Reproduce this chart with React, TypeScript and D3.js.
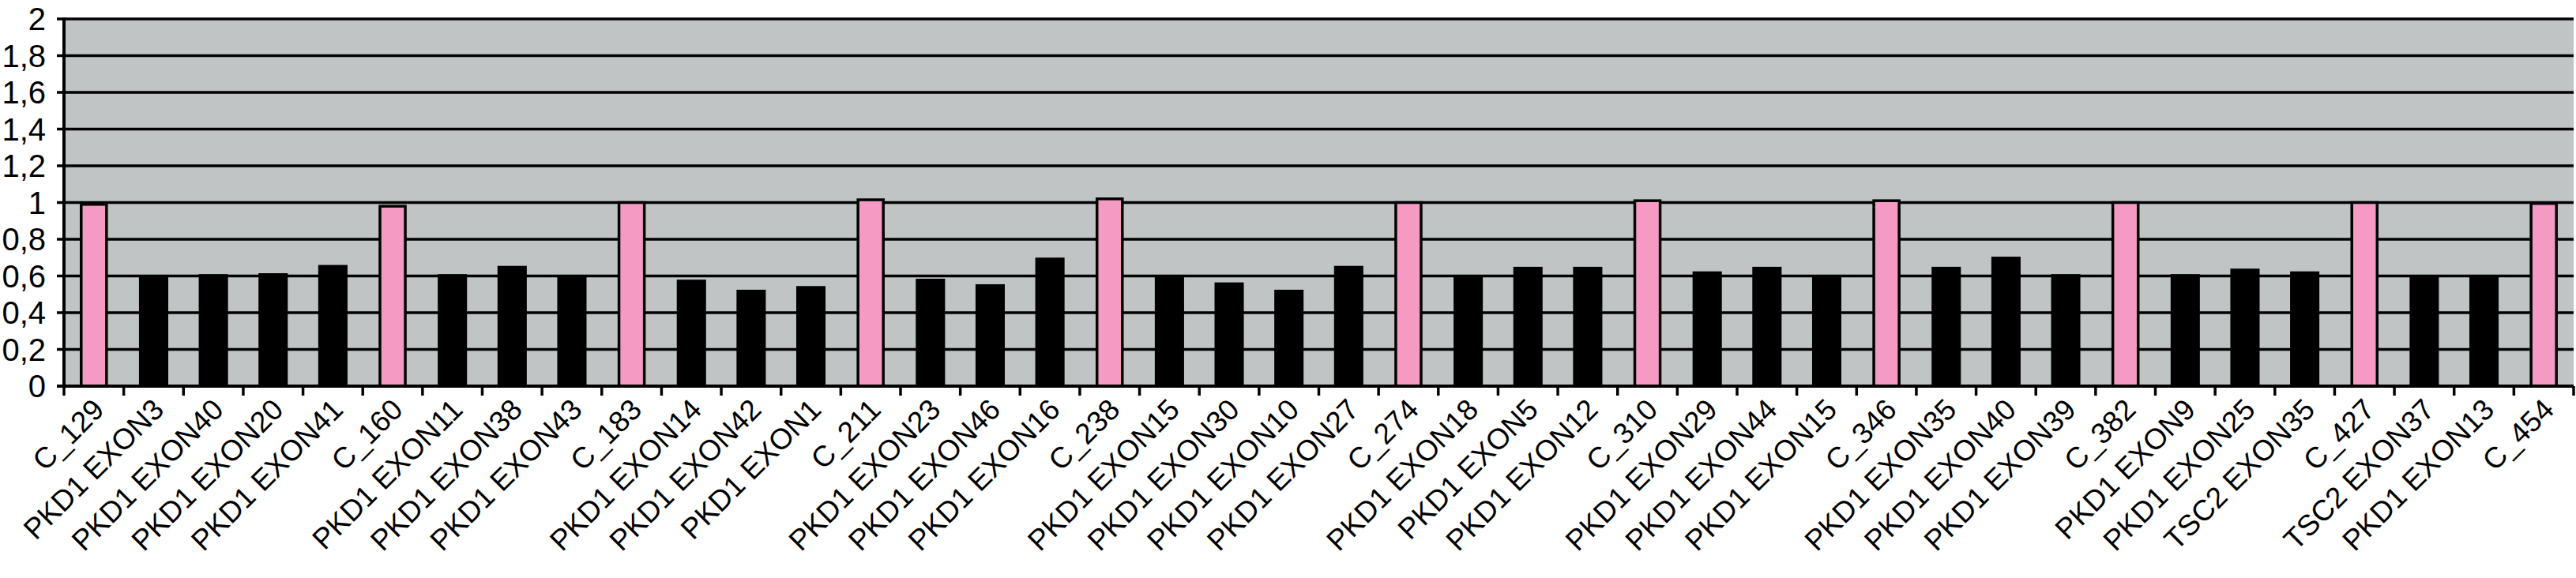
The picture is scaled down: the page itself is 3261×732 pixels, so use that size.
import React, { useRef, useEffect } from "react";
import * as d3 from "d3";

// categories along the x axis (left to right)
const categories = [
  "C_129", "PKD1 EXON3", "PKD1 EXON40", "PKD1 EXON20", "PKD1 EXON41",
  "C_160", "PKD1 EXON11", "PKD1 EXON38", "PKD1 EXON43",
  "C_183", "PKD1 EXON14", "PKD1 EXON42", "PKD1 EXON1",
  "C_211", "PKD1 EXON23", "PKD1 EXON46", "PKD1 EXON16",
  "C_238", "PKD1 EXON15", "PKD1 EXON30", "PKD1 EXON10", "PKD1 EXON27",
  "C_274", "PKD1 EXON18", "PKD1 EXON5", "PKD1 EXON12",
  "C_310", "PKD1 EXON29", "PKD1 EXON44", "PKD1 EXON15",
  "C_346", "PKD1 EXON35", "PKD1 EXON40", "PKD1 EXON39",
  "C_382", "PKD1 EXON9", "PKD1 EXON25", "TSC2 EXON35",
  "C_427", "TSC2 EXON37", "PKD1 EXON13", "C_454",
];

// ratio values
const values = [
  0.99, 0.6, 0.61, 0.615, 0.66,
  0.98, 0.61, 0.655, 0.6,
  1.0, 0.58, 0.525, 0.545,
  1.015, 0.585, 0.555, 0.7,
  1.02, 0.6, 0.565, 0.525, 0.655,
  1.0, 0.6, 0.65, 0.65,
  1.01, 0.625, 0.65, 0.6,
  1.01, 0.65, 0.705, 0.61,
  1.0, 0.61, 0.64, 0.625,
  1.0, 0.6, 0.6, 0.995,
];

const yTicks = [0, 0.2, 0.4, 0.6, 0.8, 1, 1.2, 1.4, 1.6, 1.8, 2];

const font = "Liberation Sans, Arial, Helvetica, sans-serif";

function App() {
  const svgRef = useRef<SVGSVGElement>(null);

  useEffect(() => {
    if (!svgRef.current) return;
    const svg = d3.select(svgRef.current);
    svg.selectAll("*").remove();

    const width = 3261;
    const height = 732;
    const left = 81;
    const right = 3258;
    const top = 24;
    const bottom = 489;

    const x = d3
      .scaleBand<number>()
      .domain(categories.map((_, i) => i))
      .range([left, right])
      .paddingInner(0.51)
      .paddingOuter(0.255);

    const y = d3.scaleLinear().domain([0, 2]).range([bottom, top]);

    svg.attr("width", width).attr("height", height);

    // plot background
    svg
      .append("rect")
      .attr("x", left)
      .attr("y", top)
      .attr("width", right - left)
      .attr("height", bottom - top)
      .attr("fill", "#c0c4c5");

    // gridlines (also form the left tick marks)
    svg
      .append("g")
      .selectAll("line")
      .data(yTicks.filter((d) => d > 0))
      .enter()
      .append("line")
      .attr("x1", left - 9)
      .attr("x2", right)
      .attr("y1", (d) => y(d))
      .attr("y2", (d) => y(d))
      .attr("stroke", "#000")
      .attr("stroke-width", 3.5);

    // bars
    const step = x.step();
    const bw = x.bandwidth();
    const isControl = (i: number) => categories[i].startsWith("C_");
    svg
      .append("g")
      .selectAll("rect")
      .data(values)
      .enter()
      .append("rect")
      .attr("x", (_, i) => x(i)! + (isControl(i) ? 2.5 : 0))
      .attr("y", (d) => y(d))
      .attr("width", (_, i) => (isControl(i) ? bw - 5 : bw))
      .attr("height", (d) => bottom - y(d))
      .attr("fill", (_, i) => (isControl(i) ? "#f49ac3" : "#000"))
      .attr("stroke", "#000")
      .attr("stroke-width", (_, i) => (isControl(i) ? 3.5 : 0));

    // y axis
    const yAxis = svg.append("g");
    yAxis
      .append("line")
      .attr("x1", left)
      .attr("x2", left)
      .attr("y1", top - 1.75)
      .attr("y2", bottom + 2)
      .attr("stroke", "#000")
      .attr("stroke-width", 4);
    yAxis
      .selectAll("text")
      .data(yTicks)
      .enter()
      .append("text")
      .attr("x", 58)
      .attr("y", (d) => y(d))
      .attr("dy", "0.36em")
      .attr("text-anchor", "end")
      .attr("font-family", font)
      .attr("font-size", 40)
      .text((d) => String(d).replace(".", ","));

    // x axis line and ticks at band boundaries
    const xAxis = svg.append("g");
    xAxis
      .append("line")
      .attr("x1", left - 9)
      .attr("x2", right)
      .attr("y1", bottom)
      .attr("y2", bottom)
      .attr("stroke", "#000")
      .attr("stroke-width", 4);
    xAxis
      .selectAll("line.tick")
      .data(d3.range(categories.length + 1))
      .enter()
      .append("line")
      .attr("class", "tick")
      .attr("x1", (i) => left + i * step)
      .attr("x2", (i) => left + i * step)
      .attr("y1", bottom)
      .attr("y2", bottom + 12)
      .attr("stroke", "#000")
      .attr("stroke-width", 3.5);

    xAxis
      .selectAll("text")
      .data(categories)
      .enter()
      .append("text")
      .attr("transform", (_, i) => `translate(${x(i)! + bw / 2 + 15},${bottom + 32}) rotate(-45)`)
      .attr("text-anchor", "end")
      .attr("font-family", font)
      .attr("font-size", 37)
      .text((d) => d);
  }, []);

  return <svg ref={svgRef} style={{ position: "absolute", left: 0, top: 0 }}></svg>;
}

export default App;
